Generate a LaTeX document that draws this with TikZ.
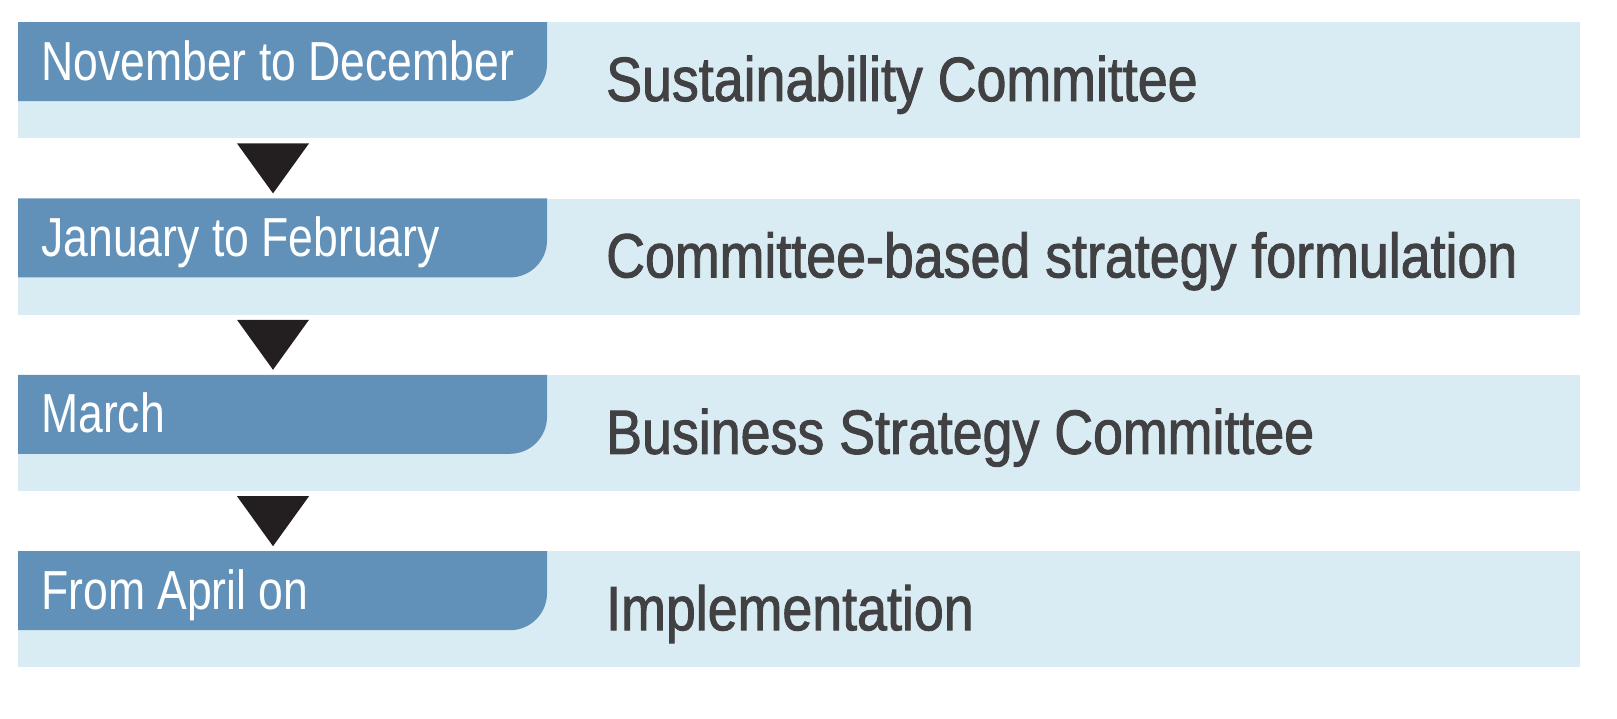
\documentclass[tikz,border=0pt]{standalone}
\usepackage{fontspec}
\setmainfont{Liberation Sans}
\newfontfamily\tabfont{Liberation Sans}[FakeStretch=0.81]
\newfontfamily\stepfont{Liberation Sans}[FakeStretch=0.86, FakeBold=1.5]
\usetikzlibrary{positioning}
\definecolor{bandblue}{HTML}{DAECF3}
\definecolor{tabblue}{HTML}{6191B9}
\definecolor{textgray}{HTML}{414042}
\definecolor{triblack}{HTML}{231F20}

\begin{document}
\begin{tikzpicture}[
    band/.style={rectangle, fill=bandblue, minimum width=1562pt, minimum height=116pt, inner sep=0pt},
    tab/.style={fill=tabblue},
    tablabel/.style={anchor=base west, inner sep=0pt, text=white, font=\tabfont\fontsize{55}{55}\selectfont},
    steplabel/.style={anchor=base west, inner sep=0pt, text=textgray, font=\stepfont\fontsize{62.5}{62.5}\selectfont},
    tri/.style={fill=triblack}
  ]
    \useasboundingbox (0,0) rectangle (1617pt,-718pt);
    \node[band, anchor=north west] (band1) at (18pt,-22pt) {};
    \node[band, below=60pt of band1] (band2) {};
    \node[band, below=60pt of band2] (band3) {};
    \node[band, below=60pt of band3] (band4) {};
    % tabs with one rounded corner
    \fill[tab] (band1.north west) -- ++(529pt,0) -- ++(0,-42pt) arc[start angle=0, end angle=-90, radius=37pt] -- ++(-492pt,0) -- cycle;
    \fill[tab] (band2.north west) -- ++(529pt,0) -- ++(0,-42pt) arc[start angle=0, end angle=-90, radius=37pt] -- ++(-492pt,0) -- cycle;
    \fill[tab] (band3.north west) -- ++(529pt,0) -- ++(0,-42pt) arc[start angle=0, end angle=-90, radius=37pt] -- ++(-492pt,0) -- cycle;
    \fill[tab] (band4.north west) -- ++(529pt,0) -- ++(0,-42pt) arc[start angle=0, end angle=-90, radius=37pt] -- ++(-492pt,0) -- cycle;
    \node[tablabel] (tab1) at ([shift={(23pt,-58pt)}]band1.north west) {November to December};
    \node[tablabel] (tab2) at ([shift={(23pt,-58pt)}]band2.north west) {January to February};
    \node[tablabel] (tab3) at ([shift={(23pt,-58pt)}]band3.north west) {March};
    \node[tablabel] (tab4) at ([shift={(23pt,-58pt)}]band4.north west) {From April on};
    \node[steplabel] (step1) at ([shift={(588pt,-79pt)}]band1.north west) {Sustainability Committee};
    \node[steplabel] (step2) at ([shift={(588pt,-79pt)}]band2.north west) {Committee-based strategy formulation};
    \node[steplabel] (step3) at ([shift={(588pt,-79pt)}]band3.north west) {Business Strategy Committee};
    \node[steplabel] (step4) at ([shift={(588pt,-79pt)}]band4.north west) {Implementation};
    % triangles between the bands
    \fill[tri] ([shift={(219pt,-5pt)}]band1.south west) -- ++(72pt,0) -- ([shift={(255pt,5pt)}]band2.north west) -- cycle;
    \fill[tri] ([shift={(219pt,-5pt)}]band2.south west) -- ++(72pt,0) -- ([shift={(255pt,5pt)}]band3.north west) -- cycle;
    \fill[tri] ([shift={(219pt,-5pt)}]band3.south west) -- ++(72pt,0) -- ([shift={(255pt,5pt)}]band4.north west) -- cycle;
  \end{tikzpicture}
\end{document}
